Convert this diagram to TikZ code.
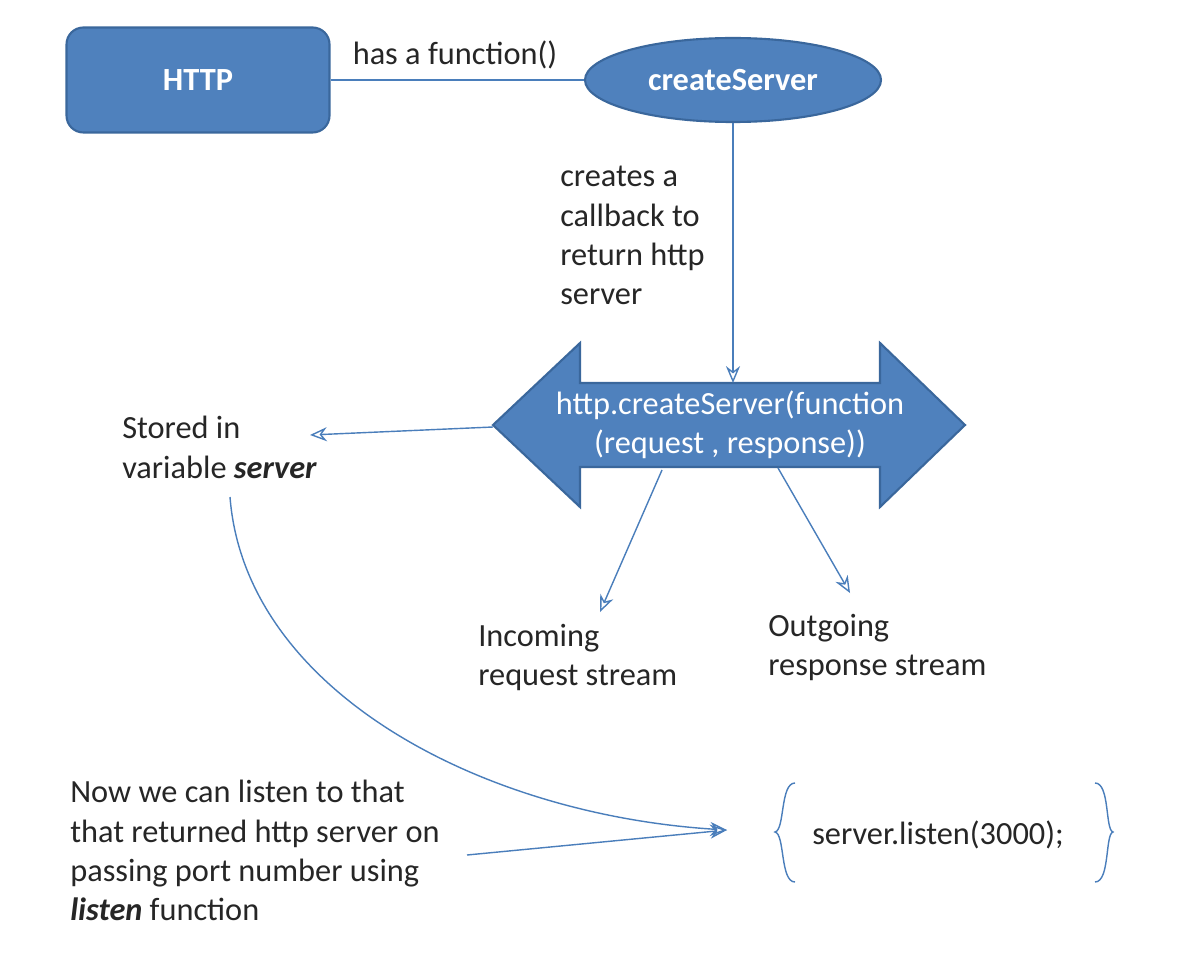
\documentclass[tikz,border=0pt]{standalone}
\usepackage{fontspec}
\setmainfont{Carlito}
\usetikzlibrary{shapes.geometric,shapes.arrows,arrows.meta,decorations.pathreplacing}
\definecolor{bfill}{HTML}{4F81BD}
\definecolor{bline}{HTML}{3A679C}
\definecolor{conn}{HTML}{4A7EBB}
\begin{document}
\begin{tikzpicture}[x=0.025cm,y=-0.025cm,
  txt/.style={font=\fontsize{23}{28}\selectfont,align=left,inner sep=0pt,anchor=north west,text=black!85},
  wtxt/.style={font=\fontsize{23}{28}\selectfont,text=white},
  con/.style={draw=conn,line width=1pt},
  arr/.style={con,-{Stealth[open,length=12pt,width=10pt]}}]
\useasboundingbox (0,0) rectangle (1200,971);
\fill[white] (0,0) rectangle (1200,971);
% HTTP box
\node[draw=bline,fill=bfill,line width=1.5pt,rounded corners=12pt,minimum width=263*0.025cm,minimum height=105*0.025cm,wtxt,font=\fontsize{23}{28}\selectfont\bfseries] (http) at (198,80) {HTTP};
\node[ellipse,draw=bline,fill=bfill,line width=1.5pt,minimum width=296*0.025cm,minimum height=84*0.025cm,inner sep=0pt,wtxt,font=\fontsize{23}{28}\selectfont\bfseries] (cs) at (733,80) {createServer};
\draw[con] (http.east) -- (cs.west);
\node[txt,anchor=center] (hf) at (455,55) {has a function()};
\node[txt] (cb) at (560,166) {creates a\\callback to\\return http\\server};
% double arrow
\path[fill=bfill,draw=bline,line width=1.5pt] (493,425) -- (580,343) -- (580,383) -- (880,383) -- (880,343) -- (965,425) -- (880,507) -- (880,467) -- (580,467) -- (580,507) -- cycle;
\node[wtxt,align=center,inner sep=0pt] (da) at (730,425) {http.createServer(function\\(request , response))};
\coordinate (datop) at (733,383);
\coordinate (daleft) at (493,427);
\coordinate (dab1) at (662,470);
\coordinate (dab2) at (778,468);
\draw[arr] (cs.south) -- (datop);
\node[txt] (st) at (122,416) {Stored in\\variable \textbf{\textit{server}}};
\draw[arr] (daleft) -- (310,435);
\node[txt] (inc) at (478,624) {Incoming\\request stream};
\node[txt] (out) at (768,614) {Outgoing\\response stream};
\draw[arr] (dab1) -- (600,612);
\draw[arr] (dab2) -- (850,593);
% listen
\node[txt] (now) at (70,780) {Now we can listen to that\\that returned http server on\\passing port number using\\\textbf{\textit{listen}} function};
\node[txt,anchor=center] (sl) at (938,835) {server.listen(3000);};
\coordinate (tgt) at (727,830);
\draw[arr] (230,497) .. controls (245,690) and (480,815) .. (tgt);
\draw[arr] (467,855) -- (tgt);
\draw[conn,line width=1pt] (795,783) .. controls (780,783) and (785,830) .. (775,832) .. controls (785,834) and (780,882) .. (795,882);
\draw[conn,line width=1pt] (1095,783) .. controls (1110,783) and (1105,830) .. (1113,832) .. controls (1105,834) and (1110,882) .. (1095,882);
\end{tikzpicture}
\end{document}
